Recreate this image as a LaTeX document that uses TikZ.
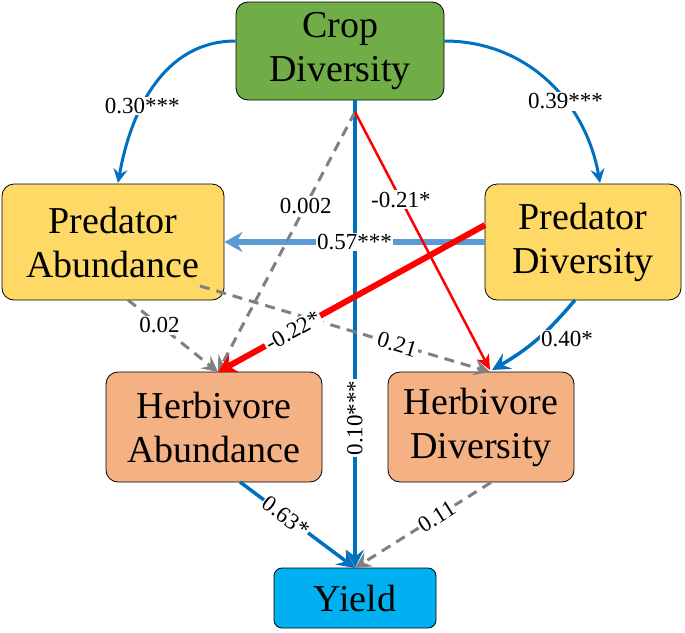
\documentclass[tikz,border=0pt]{standalone}
\usepackage{fontspec}
\setmainfont{Liberation Serif}
\usetikzlibrary{arrows.meta}
\begin{document}
\begin{tikzpicture}[x=1pt,y=-1pt,
  box/.style={draw=black,line width=0.8pt,rounded corners=12pt,align=center,font=\fontsize{38}{44}\selectfont,inner sep=0pt},
  lab/.style={fill=white,inner sep=1.5pt,font=\fontsize{23}{26}\selectfont},
  blu/.style={draw={rgb,255:red,0;green,112;blue,192},line width=3.5pt,-{Stealth[length=18pt,width=18pt,inset=7pt]}},
  bluthin/.style={draw={rgb,255:red,0;green,112;blue,192},line width=3pt,-{Stealth[length=14pt,width=14pt,inset=5pt]}},
  gdash/.style={draw=gray,line width=3pt,dash pattern=on 10pt off 7pt,-{Stealth[length=16pt,width=16pt,inset=6pt]}},
  redl/.style={draw=red,line width=2.5pt,-{Stealth[length=15pt,width=13pt,inset=4pt]}}]
\useasboundingbox (0,0) rectangle (685,632);
\definecolor{cg}{RGB}{112,173,71}
\definecolor{cy}{RGB}{255,217,102}
\definecolor{cs}{RGB}{244,177,131}
\definecolor{cb}{RGB}{0,176,240}
\node[box,fill=cg,minimum width=208pt,minimum height=98pt] (crop) at (340,51) {Crop\\Diversity};
\node[box,fill=cy,minimum width=222pt,minimum height=116pt] (pa) at (113,242) {Predator\\Abundance};
\node[box,fill=cy,minimum width=196pt,minimum height=116pt] (pd) at (583,242) {Predator\\Diversity};
\node[box,fill=cs,minimum width=216pt,minimum height=110pt] (ha) at (214,427) {Herbivore\\Abundance};
\node[box,fill=cs,minimum width=186pt,minimum height=110pt] (hd) at (481,427) {Herbivore\\Diversity};
\node[box,fill=cb,minimum width=162pt,minimum height=60pt,rounded corners=8pt] (y) at (355,598) {Yield};
\coordinate (ct) at (355,112);
% crop arcs
\draw[bluthin] (crop.west) ++(0,-10) to[out=180,in=80] node[lab,pos=0.62] {0.30***} (118,183);
\draw[bluthin] (crop.east) ++(0,-10) to[out=0,in=100] node[lab,pos=0.62] {0.39***} (600,183);
% crop to yield
\draw[blu] (355,100) -- node[lab,sloped,pos=0.68,rotate=180] {0.10***} (y.north);
% predator diversity to predator abundance
\draw[draw={rgb,255:red,91;green,155;blue,213},line width=5.5pt,-{Stealth[length=18pt,width=20pt,inset=6pt]}] (pd.west) -- node[lab,pos=0.5] {0.57***} (pa.east);
% dashed
\draw[gdash] (ct) -- node[lab,pos=0.36] {0.002} (218,372);
\draw[gdash] (200,286) -- node[lab,sloped,pos=0.68] {0.21} (490,372);
\draw[gdash] (128,300) -- node[lab,pos=0.35] {0.02} (218,372);
\draw[gdash] (hd.south) ++(10,0) -- node[lab,sloped,pos=0.4] {0.11} (355,568);
% red
\draw[redl] (ct) -- node[lab,pos=0.34] {-0.21*} (490,370);
\draw[draw=red,line width=6pt,-{Stealth[length=18pt,width=20pt,inset=6pt]}] (485,225) -- node[lab,sloped,pos=0.72] {-0.22*} (218,372);
% pd to hd
\draw[blu] (575,300) to[out=230,in=30] node[lab,pos=0.5,xshift=30pt] {0.40*} (492,370);
% ha to yield
\draw[blu] (240,482) -- node[lab,sloped,pos=0.4] {0.63*} (355,568);
\end{tikzpicture}
\end{document}
